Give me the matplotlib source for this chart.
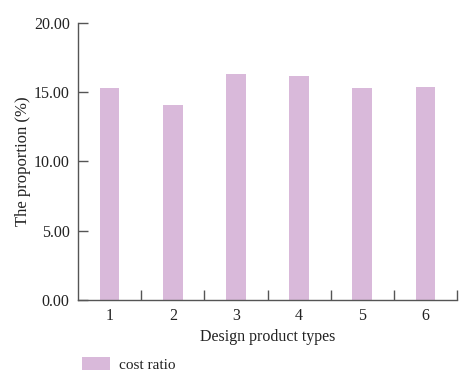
import matplotlib
matplotlib.use("Agg")
import matplotlib.pyplot as plt
import numpy as np

# data
types = ["1", "2", "3", "4", "5", "6"]
cost_ratio = [15.33, 14.10, 16.34, 16.15, 15.28, 15.40]
yticks = [0, 5, 10, 15, 20]

plt.rcParams['font.family'] = ['Liberation Serif', 'DejaVu Serif']

fig = plt.figure(figsize=(4.74, 3.87), dpi=100)
ax = fig.add_axes([0.1646, 0.2248, 0.7996, 0.7158])

x = np.arange(len(types))
ax.bar(x, cost_ratio, width=0.31, color="#d9b9da", label="cost ratio")

ax.set_xlim(-0.5, len(types) - 0.5)
ax.set_ylim(0, 20)
ax.set_yticks(yticks)
ax.set_yticklabels(["%.2f" % v for v in yticks])

# labels at the centres, tick marks at the boundaries
ax.set_xticks(x)
ax.set_xticklabels(types)
ax.tick_params(axis='x', which='major', length=0, pad=6)
ax.set_xticks(x + 0.5, minor=True)
ax.tick_params(axis='x', which='minor', direction='in', length=7, width=1, color="#555555")
ax.tick_params(axis='y', direction='in', length=7, width=1, color="#555555", pad=6)
ax.tick_params(labelsize=11.5, labelcolor="#222222")

for s in ['top', 'right']:
    ax.spines[s].set_visible(False)
for s in ['left', 'bottom']:
    ax.spines[s].set_color("#555555")
    ax.spines[s].set_linewidth(1)

ax.set_xlabel("Design product types", fontsize=11.5, color="#222222", labelpad=3)
ax.set_ylabel("The proportion (%)", fontsize=12, color="#222222", labelpad=2)

ax.legend(loc='upper left', bbox_to_anchor=(-0.005, -0.185), frameon=False,
          fontsize=11, handlelength=1.8, handleheight=0.9, handletextpad=0.6,
          borderaxespad=0, labelcolor="#222222")

fig.savefig("out.png", dpi=100)
